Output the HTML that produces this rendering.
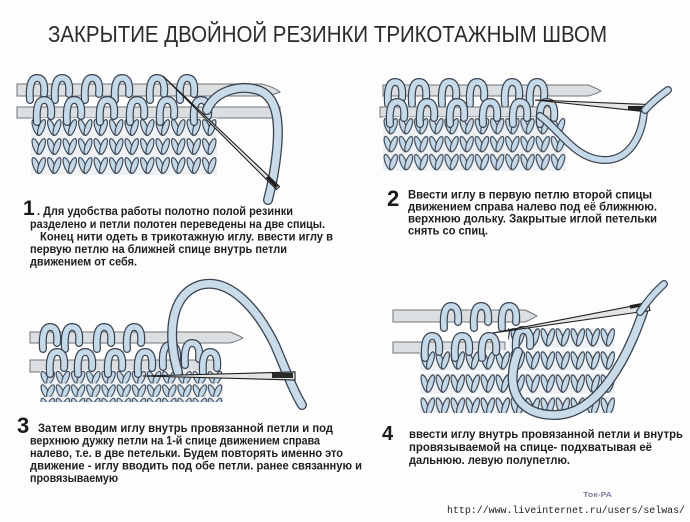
<!DOCTYPE html>
<html><head><meta charset="utf-8">
<style>
html,body{margin:0;padding:0;background:#fff;}
svg{display:block;}
.t{font-family:"Liberation Sans","DejaVu Sans",sans-serif;font-weight:bold;font-size:11.5px;fill:#1e1e1e;}
.n{font-family:"Liberation Sans","DejaVu Sans",sans-serif;font-weight:bold;fill:#1a1a1a;}
.yo{fill:none;stroke:#3a4350;stroke-width:8;stroke-linecap:round;stroke-linejoin:round;}
.yi{fill:none;stroke:#c6d9e8;stroke-width:5.6;stroke-linecap:round;stroke-linejoin:round;}
.Yo{fill:none;stroke:#3a4350;stroke-width:10;stroke-linecap:round;}
.Yi{fill:none;stroke:#c9dbe9;stroke-width:7.4;stroke-linecap:round;}
.nd{fill:#dcdfe2;stroke:#6f7478;stroke-width:1;}
.sn{fill:#e4e4e4;stroke:#1e1e1e;stroke-width:1.1;}
</style></head><body>
<svg width="690" height="522" viewBox="0 0 690 522" xmlns="http://www.w3.org/2000/svg">
<defs>
  <path id="arch" d="M0,22 C-1,8 1,0 7,0 C13,0 15,6 14,16"/>
  <g id="V">
    <ellipse cx="5" cy="9.5" rx="2.9" ry="8.3" transform="rotate(-20 5 9.5)" fill="#c4d8e8" stroke="#3a4350" stroke-width="1.1"/>
    <ellipse cx="10.5" cy="9.5" rx="2.9" ry="8.3" transform="rotate(20 10.5 9.5)" fill="#c4d8e8" stroke="#3a4350" stroke-width="1.1"/>
  </g>
  <pattern id="k1" width="15.5" height="19" patternUnits="userSpaceOnUse" patternTransform="translate(31,118)">
    <rect width="15.5" height="19" fill="#eef2f5"/><use href="#V"/>
  </pattern>
  <pattern id="k2" width="15.2" height="18.5" patternUnits="userSpaceOnUse" patternTransform="translate(383,117) scale(1,0.97)">
    <rect width="15.5" height="19" fill="#eef2f5"/><use href="#V"/>
  </pattern>
  <pattern id="k3" width="15.2" height="16" patternUnits="userSpaceOnUse" patternTransform="translate(40,370) scale(1,0.84)">
    <rect width="15.5" height="19" fill="#eef2f5"/><use href="#V"/>
  </pattern>
  <pattern id="k4" width="15" height="21" patternUnits="userSpaceOnUse" patternTransform="translate(420,350) scale(1,1.1)">
    <rect width="15.5" height="19" fill="#eef2f5"/><use href="#V"/>
  </pattern>
  <g id="loop"><use href="#arch" class="yo"/><use href="#arch" class="yi"/></g>
</defs>
<rect width="690" height="522" fill="#fdfdfd"/>

<!-- Title -->
<text x="48" y="42" font-family="Liberation Sans, DejaVu Sans, sans-serif" font-size="23" textLength="559" lengthAdjust="spacingAndGlyphs" fill="#2b2b2b">ЗАКРЫТИЕ ДВОЙНОЙ РЕЗИНКИ ТРИКОТАЖНЫМ ШВОМ</text>

<!-- ===== Panel 1 ===== -->
<path class="nd" d="M17,84 L262,84 Q274,87 280,92 Q274,95 262,96 L17,96 Z"/>
<use href="#loop" x="30" y="78"/><use href="#loop" x="55" y="78"/><use href="#loop" x="85" y="78"/>
<use href="#loop" x="115" y="78"/><use href="#loop" x="150" y="78"/><use href="#loop" x="180" y="78"/>
<path class="nd" d="M17,107 L280,107 L280,118 L17,118 Z"/>
<rect x="31" y="118" width="186" height="57" fill="url(#k1)"/>
<use href="#loop" x="37" y="100"/><use href="#loop" x="67" y="100"/><use href="#loop" x="100" y="100"/>
<use href="#loop" x="130" y="100"/><use href="#loop" x="160" y="100"/><use href="#loop" x="194" y="100"/>
<path class="Yo" d="M207,110 C214,92 238,84 258,90 C276,96 280,118 277,150 C275,170 272,185 268,200"/>
<path class="Yi" d="M207,110 C214,92 238,84 258,90 C276,96 280,118 277,150 C275,170 272,185 268,200"/>
<path class="sn" d="M163,76 L279.6,186.6 L276.4,189.4 Z"/>
<path d="M267,177 L277,187" stroke="#1e1e1e" stroke-width="3"/>

<!-- ===== Panel 2 ===== -->
<path class="nd" d="M383,85 L588,85 Q596,88 601,91 Q596,94 588,96 L383,96 Z"/>
<use href="#loop" x="388" y="82"/><use href="#loop" x="412" y="82"/><use href="#loop" x="442" y="82"/>
<use href="#loop" x="470" y="82"/><use href="#loop" x="505" y="82"/><use href="#loop" x="530" y="82"/>
<path class="nd" d="M380,107 L552,107 L552,117 L380,117 Z"/>
<rect x="383" y="117" width="183" height="54" fill="url(#k2)"/>
<use href="#loop" x="390" y="102"/><use href="#loop" x="420" y="102"/><use href="#loop" x="450" y="102"/>
<use href="#loop" x="483" y="102"/><use href="#loop" x="513" y="102"/><use href="#loop" x="540" y="102"/>
<path class="yo" d="M540,116 C560,130 575,160 605,160 C630,160 642,135 644,112"/>
<path class="yi" d="M540,116 C560,130 575,160 605,160 C630,160 642,135 644,112"/>
<path class="sn" d="M535,100 L648,104.5 L648,112 Z"/>
<rect x="628" y="106" width="18" height="4.5" fill="#222"/>
<path class="yo" d="M645,110 C652,102 660,96 668,90"/>
<path class="yi" d="M645,110 C652,102 660,96 668,90"/>

<!-- ===== Panel 3 ===== -->
<path class="nd" d="M30,332 L230,332 Q238,335 243,338 Q238,341 230,343 L30,343 Z"/>
<use href="#loop" x="43" y="327"/><use href="#loop" x="65" y="327"/><use href="#loop" x="97" y="327"/><use href="#loop" x="127" y="327"/>
<path class="nd" d="M30,360 L220,360 L220,372 L30,372 Z"/>
<rect x="40" y="370" width="183" height="32" fill="url(#k3)"/>
<use href="#loop" x="50" y="352"/><use href="#loop" x="78" y="352"/><use href="#loop" x="108" y="352"/>
<use href="#loop" x="138" y="352"/><use href="#loop" x="163" y="345"/><use href="#loop" x="185" y="343"/><use href="#loop" x="203" y="352"/>
<path class="Yo" d="M178,372 C168,340 168,295 200,285 C230,277 258,310 275,345 C285,368 292,388 302,405"/>
<path class="Yi" d="M178,372 C168,340 168,295 200,285 C230,277 258,310 275,345 C285,368 292,388 302,405"/>
<path class="sn" d="M143,376 L295,372 L295,380 Z"/>
<rect x="272" y="373" width="21" height="5" fill="#2a2a2a"/>

<!-- ===== Panel 4 ===== -->
<path class="nd" d="M393,310 L525,310 Q532,313 537,316 Q532,319 525,322 L393,322 Z"/>
<use href="#loop" x="444" y="306"/><use href="#loop" x="474" y="306"/><use href="#loop" x="502" y="306"/>
<path class="nd" d="M393,342 L505,342 L505,353 L393,353 Z"/>
<rect x="420" y="350" width="195" height="63" fill="url(#k4)"/>
<rect x="508" y="328" width="107" height="24" fill="url(#k4)"/>
<use href="#loop" x="425" y="336"/><use href="#loop" x="455" y="336"/><use href="#loop" x="482" y="336"/><use href="#loop" x="516" y="330"/>
<path class="Yo" d="M518,352 C505,385 515,415 555,415 C595,415 625,365 643,312"/>
<path class="Yi" d="M518,352 C505,385 515,415 555,415 C595,415 625,365 643,312"/>
<path class="sn" d="M493,333 L648,303 L650,310.5 Z"/>
<path d="M630,307 L648,303.5" stroke="#222" stroke-width="3.5"/>
<path class="yo" d="M640,312 C648,300 655,292 664,284"/>
<path class="yi" d="M640,312 C648,300 655,292 664,284"/>

<!-- ===== Text step 1 ===== -->
<text class="n" x="23" y="215" font-size="21">1</text>
<text class="t" x="37" y="215" textLength="256" lengthAdjust="spacingAndGlyphs">. Для удобства работы полотно полой резинки</text>
<text class="t" x="30" y="228" textLength="295" lengthAdjust="spacingAndGlyphs">разделено и петли полотен переведены на две спицы.</text>
<text class="t" x="40" y="240.5" textLength="293" lengthAdjust="spacingAndGlyphs">Конец нити одеть в трикотажную иглу. ввести иглу в</text>
<text class="t" x="30" y="253" textLength="257" lengthAdjust="spacingAndGlyphs">первую петлю на ближней спице внутрь петли</text>
<text class="t" x="30" y="265.5" textLength="107" lengthAdjust="spacingAndGlyphs">движением от себя.</text>

<!-- ===== Text step 2 ===== -->
<text class="n" x="387" y="206" font-size="22">2</text>
<text class="t" x="408" y="198.5" textLength="244" lengthAdjust="spacingAndGlyphs">Ввести иглу в первую петлю второй спицы</text>
<text class="t" x="408" y="210.5" textLength="249" lengthAdjust="spacingAndGlyphs">движением справа налево под её ближнюю.</text>
<text class="t" x="408" y="222.5" textLength="249" lengthAdjust="spacingAndGlyphs">верхнюю дольку. Закрытые иглой петельки</text>
<text class="t" x="408" y="234.5" textLength="80" lengthAdjust="spacingAndGlyphs">снять со спиц.</text>

<!-- ===== Text step 3 ===== -->
<text class="n" x="17" y="433" font-size="22">3</text>
<text class="t" x="38" y="432" textLength="295" lengthAdjust="spacingAndGlyphs">Затем  вводим иглу внутрь провязанной петли и под</text>
<text class="t" x="30" y="444.5" textLength="290" lengthAdjust="spacingAndGlyphs">верхнюю дужку петли на 1-й спице движением справа</text>
<text class="t" x="30" y="457" textLength="313" lengthAdjust="spacingAndGlyphs">налево, т.е. в две петельки.  Будем повторять именно это</text>
<text class="t" x="30" y="469.5" textLength="332" lengthAdjust="spacingAndGlyphs">движение - иглу вводить под обе петли. ранее связанную и</text>
<text class="t" x="30" y="482" textLength="88" lengthAdjust="spacingAndGlyphs">провязываемую</text>

<!-- ===== Text step 4 ===== -->
<text class="n" x="382" y="440" font-size="20">4</text>
<text class="t" x="409" y="438" textLength="274" lengthAdjust="spacingAndGlyphs">ввести иглу внутрь провязанной петли и внутрь</text>
<text class="t" x="409" y="451" textLength="243" lengthAdjust="spacingAndGlyphs">провязываемой на спице-  подхватывая её</text>
<text class="t" x="409" y="464" textLength="161" lengthAdjust="spacingAndGlyphs">дальнюю. левую полупетлю.</text>

<!-- Footer -->
<text x="583" y="497" font-family="Liberation Sans, DejaVu Sans, sans-serif" font-weight="bold" font-size="7.5" textLength="29" lengthAdjust="spacingAndGlyphs" fill="#7e7f98">Ток-РА</text>
<text x="447" y="513" font-family="Liberation Mono, DejaVu Sans Mono, monospace" font-size="10" textLength="238" lengthAdjust="spacingAndGlyphs" fill="#222">http://www.liveinternet.ru/users/selwas/</text>
</svg>
</body></html>
